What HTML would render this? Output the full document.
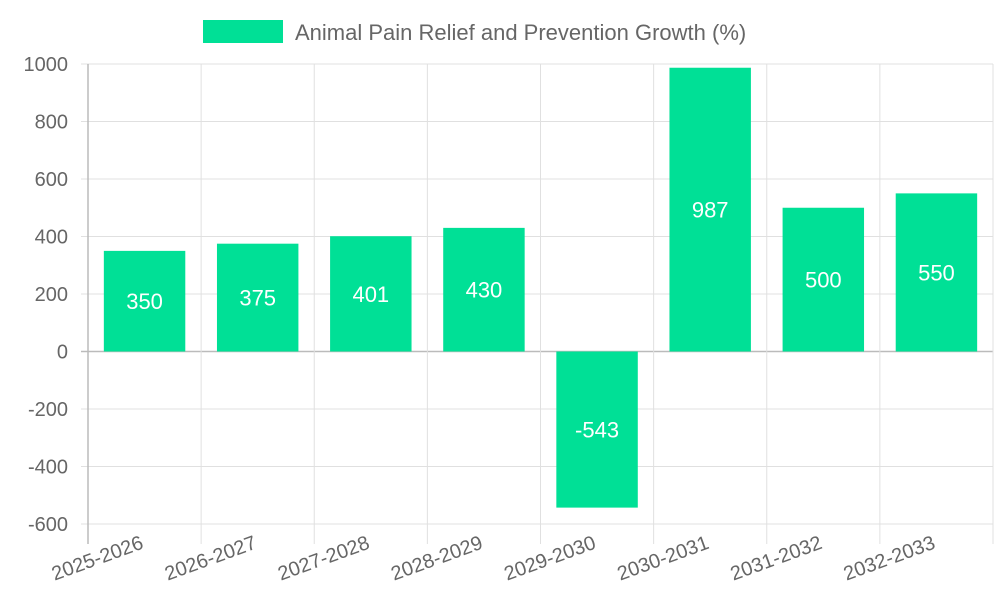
<!DOCTYPE html>
<html><head><meta charset="utf-8"><style>
body{margin:0;background:#fff;}
svg{display:block;font-family:"Liberation Sans",sans-serif;}
</style></head><body>
<svg id="chart" width="1000" height="600">
<g id="grid"></g><g id="bars"></g><g id="labels"></g>
<rect x="203" y="20" width="80" height="23" fill="#00e096"></rect>
<text x="295" y="40" font-size="22" fill="#666">Animal Pain Relief and Prevention Growth (%)</text>
</svg>
<script>
const categories=["2025-2026","2026-2027","2027-2028","2028-2029","2029-2030","2030-2031","2031-2032","2032-2033"];
const values=[350,375,401,430,-543,987,500,550];
const yTicks=[1000,800,600,400,200,0,-200,-400,-600];
const NS="http://www.w3.org/2000/svg";
const L=88,R=993,T=64,B=524,yMax=1000,yMin=-600;
const y=v=>T+(yMax-v)/(yMax-yMin)*(B-T);
const cw=(R-L)/categories.length;
const x=i=>L+cw*i;
function mk(tag,attrs,parent){const e=document.createElementNS(NS,tag);for(const k in attrs)e.setAttribute(k,attrs[k]);document.getElementById(parent).appendChild(e);return e;}
yTicks.forEach(t=>{
 const g=mk('line',{x1:L-7,x2:R,y1:y(t),y2:y(t),stroke:t===0?'#bbb':'#e0e0e0','stroke-width':t===0?1.5:1},'grid');
 
 
 const tx=mk('text',{x:L-20,y:y(t)+7,'text-anchor':'end','font-size':20,fill:'#666'},'labels');
 tx.textContent=t;
 
 
});
for(let i=0;i<=categories.length;i++){
 const g=mk('line',{x1:x(i),x2:x(i),y1:T,y2:B+20,stroke:i===0?'#bbb':'#e0e0e0','stroke-width':i===0?1.5:1},'grid');
 
 
}
categories.forEach((c,i)=>{
 const cx=x(i)+cw/2,bw=cw*0.72,v=values[i];
 const top=Math.min(y(v),y(0)),h=Math.abs(y(v)-y(0));
 const r=mk('rect',{x:cx-bw/2,y:top,width:bw,height:h,fill:'#00e096'},'bars');
 
 
 const vt=mk('text',{x:cx,y:top+h/2+8,'text-anchor':'middle','font-size':22,fill:'#fff'},'labels');
 vt.textContent=v;
 
 
 const xt=mk('text',{x:cx,y:548,'text-anchor':'end','font-size':20,fill:'#666',transform:'rotate(-20 '+cx+' 548)'},'labels');
 xt.textContent=c;
 
 
});
</script>
</body></html>
